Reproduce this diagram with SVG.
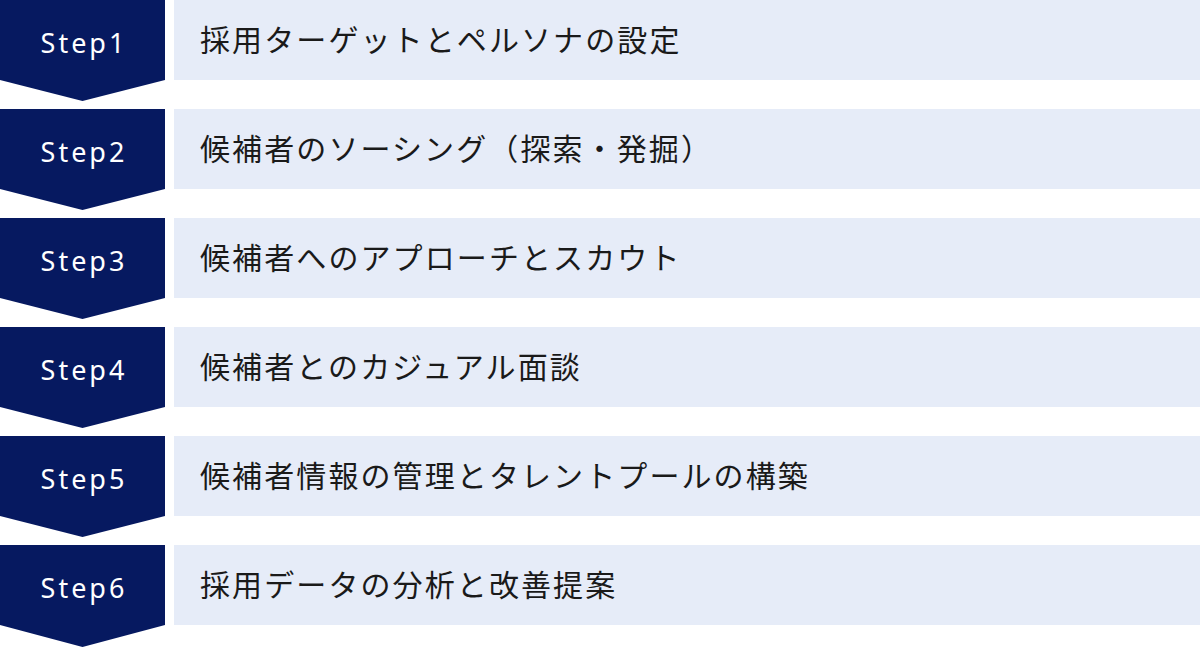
<svg xmlns="http://www.w3.org/2000/svg" width="1200" height="647" viewBox="0 0 1200 647">
<style>
.chev{fill:#061960}
.box{fill:#e6ecf8}
.st{font-family:"Noto Sans","Liberation Sans",sans-serif;font-size:27px;fill:#ffffff;text-anchor:middle;letter-spacing:3px}
.tx{font-family:"Noto Sans CJK JP","Noto Sans",sans-serif;font-size:30px;fill:#1a1a1a;letter-spacing:2.1px}
</style>
<rect width="1200" height="647" fill="#ffffff"/>
<g id="step1">
<polygon class="chev" points="0,0 165,0 165,80 82.5,101 0,80"/>
<rect class="box" x="174" y="0" width="1026" height="80"/>
<text class="st" x="84" y="53">Step1</text>
<text class="tx" x="200" y="51">採用ターゲットとペルソナの設定</text>
</g>
<g id="step2">
<polygon class="chev" points="0,109 165,109 165,189 82.5,210 0,189"/>
<rect class="box" x="174" y="109" width="1026" height="80"/>
<text class="st" x="84" y="162">Step2</text>
<text class="tx" x="200" y="160">候補者のソーシング（探索・発掘）</text>
</g>
<g id="step3">
<polygon class="chev" points="0,218 165,218 165,298 82.5,319 0,298"/>
<rect class="box" x="174" y="218" width="1026" height="80"/>
<text class="st" x="84" y="271">Step3</text>
<text class="tx" x="200" y="269">候補者へのアプローチとスカウト</text>
</g>
<g id="step4">
<polygon class="chev" points="0,327 165,327 165,407 82.5,428 0,407"/>
<rect class="box" x="174" y="327" width="1026" height="80"/>
<text class="st" x="84" y="380">Step4</text>
<text class="tx" x="200" y="378">候補者とのカジュアル面談</text>
</g>
<g id="step5">
<polygon class="chev" points="0,436 165,436 165,516 82.5,537 0,516"/>
<rect class="box" x="174" y="436" width="1026" height="80"/>
<text class="st" x="84" y="489">Step5</text>
<text class="tx" x="200" y="487">候補者情報の管理とタレントプールの構築</text>
</g>
<g id="step6">
<polygon class="chev" points="0,545 165,545 165,625 82.5,647 0,625"/>
<rect class="box" x="174" y="545" width="1026" height="80"/>
<text class="st" x="84" y="598">Step6</text>
<text class="tx" x="200" y="596">採用データの分析と改善提案</text>
</g>
<g id="connectors"></g>
</svg>
